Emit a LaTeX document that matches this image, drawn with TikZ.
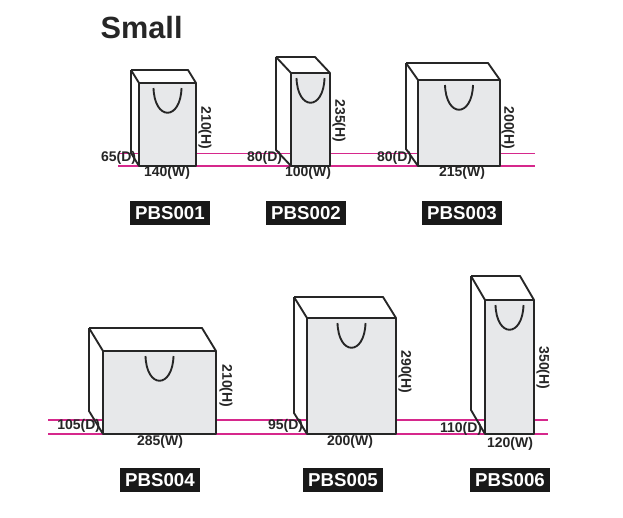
\documentclass[tikz,border=0pt]{standalone}
\usepackage{fontspec}
\setmainfont{Liberation Sans}
\definecolor{pinkl}{RGB}{214,40,140}
\definecolor{bagg}{RGB}{231,232,234}
\tikzset{
  bagline/.style={draw=black!85, line width=1.4pt, line join=round},
  dimlab/.style={font=\bfseries\fontsize{10.5}{10.5}\selectfont, text=black!85, inner sep=0.5pt},
  tag/.style={fill=black!90, text=white, font=\bfseries\fontsize{14}{14}\selectfont, minimum width=60pt, minimum height=18pt, inner sep=0pt},
  guide/.style={draw=pinkl, line width=0.9pt}
}
\newcommand{\pbag}[6]{%
  \draw[bagline] (#1+#5,#2+#6) -- (#3+#5,#2+#6) -- (#3,#2);
  \draw[bagline] (#1+#5,#2+#6) -- (#1,#2);
  \draw[bagline] (#1+#5,#2+#6) -- (#1+#5,#4+#6) -- (#1,#4);
  \draw[bagline, fill=bagg] (#1,#2) rectangle (#3,#4);
  \draw[bagline] ({(#1+#3)/2-14},#2+5) .. controls ({(#1+#3)/2-13},#2+38) and ({(#1+#3)/2+13},#2+38) .. ({(#1+#3)/2+14},#2+5);
}
\begin{document}
\begin{tikzpicture}[x=0.75pt,y=-0.75pt]
\useasboundingbox (0,0) rectangle (623,517);
\node[anchor=west, font=\bfseries\fontsize{23}{23}\selectfont, text=black!85] (title) at (96,28) {Small};
\draw[guide] (118,153.5) -- (535,153.5);
\draw[guide] (118,166) -- (535,166);
\draw[guide] (48,420) -- (548,420);
\draw[guide] (48,434) -- (548,434);
\pbag{139}{83}{196}{166}{-8}{-13}
\node[dimlab, anchor=east] (d1) at (137,158) {65(D)};
\node[dimlab] (w1) at (167,173) {140(W)};
\node[dimlab, rotate=-90] (h1) at (205,128) {210(H)};
\node[tag] (t1) at (170,213) {PBS001};
\pbag{291}{73}{330}{166}{-15}{-16}
\node[dimlab, anchor=east] (d2) at (283,158) {80(D)};
\node[dimlab] (w2) at (308,173) {100(W)};
\node[dimlab, rotate=-90] (h2) at (339,121) {235(H)};
\node[tag] (t2) at (306,213) {PBS002};
\pbag{418}{80}{500}{166}{-12}{-17}
\node[dimlab, anchor=east] (d3) at (413,158) {80(D)};
\node[dimlab] (w3) at (462,173) {215(W)};
\node[dimlab, rotate=-90] (h3) at (508,128) {200(H)};
\node[tag] (t3) at (462,213) {PBS003};
\pbag{103}{351}{216}{434}{-14}{-23}
\node[dimlab, anchor=east] (d4) at (101,426) {105(D)};
\node[dimlab] (w4) at (160,442) {285(W)};
\node[dimlab, rotate=-90] (h4) at (226,386) {210(H)};
\node[tag] (t4) at (160,480) {PBS004};
\pbag{307}{318}{396}{434}{-13}{-21}
\node[dimlab, anchor=east] (d5) at (304,426) {95(D)};
\node[dimlab] (w5) at (350,442) {200(W)};
\node[dimlab, rotate=-90] (h5) at (405,372) {290(H)};
\node[tag] (t5) at (343,480) {PBS005};
\pbag{485}{300}{534}{434}{-14}{-24}
\node[dimlab, anchor=east] (d6) at (483,429) {110(D)};
\node[dimlab] (w6) at (510,444) {120(W)};
\node[dimlab, rotate=-90] (h6) at (543,368) {350(H)};
\node[tag] (t6) at (510,480) {PBS006};
\end{tikzpicture}
\end{document}
